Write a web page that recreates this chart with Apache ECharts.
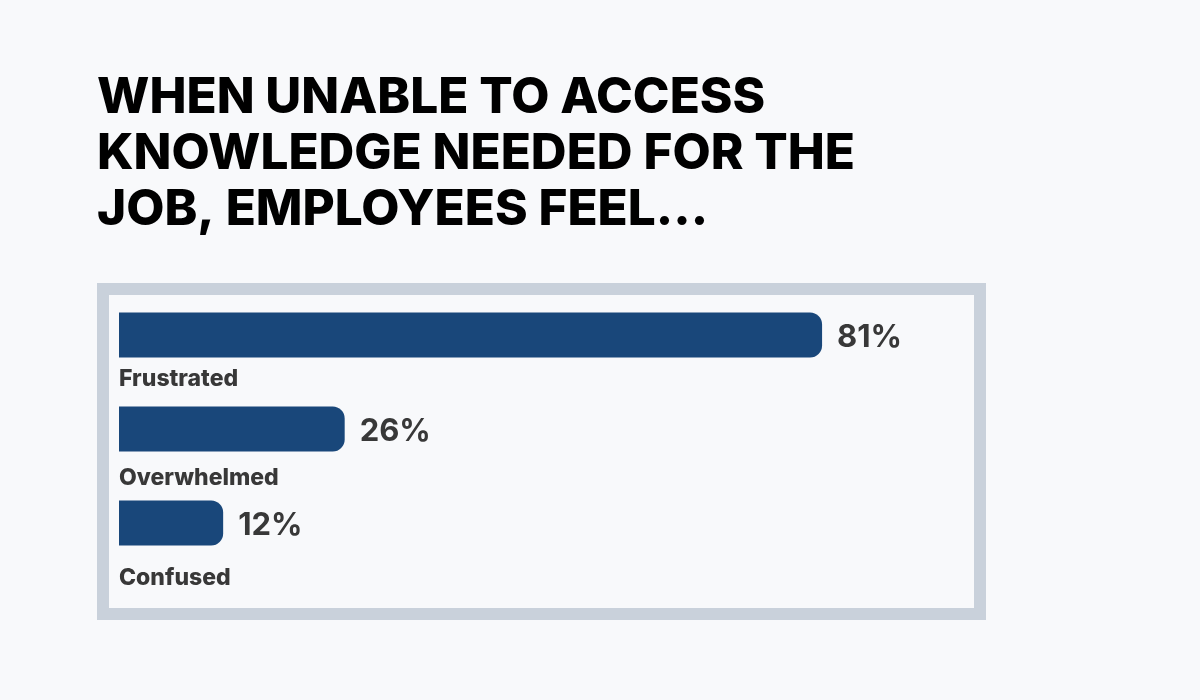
<!DOCTYPE html>
<html>
<head>
  <meta charset="utf-8" />
  <style>
    html, body { margin: 0; padding: 0; background: #f8f9fb; }
  </style>
</head>
<body>
  <div id="main" style="width: 1200px; height: 700px"></div>
  <script src="https://cdn.jsdelivr.net/npm/echarts@6.0.0/dist/echarts.min.js"></script>
  <script>
    // data
    var titleLines = ["WHEN UNABLE TO ACCESS", "KNOWLEDGE NEEDED FOR THE", "JOB, EMPLOYEES FEEL..."];
    var feelings = ["Frustrated", "Overwhelmed", "Confused"];
    var shares = [81, 26, 12];

    var catFont = { fontFamily: "Inter", fontSize: 23, fontWeight: 800, color: "#383838" };

    var myChart = echarts.init(document.getElementById("main"));
    var option = {
      backgroundColor: "#f8f9fb",
      animation: false,
      title: {
        text: titleLines.join("\n"),
        left: 97,
        top: 70,
        padding: 0,
        textStyle: {
          fontFamily: "Inter",
          fontSize: 49.5,
          fontWeight: 800,
          lineHeight: 56,
          color: "#000"
        }
      },
      graphic: [
        {
          type: "rect",
          shape: { x: 103, y: 289, width: 877, height: 325 },
          style: { fill: "#f8f9fb", stroke: "#c9d1db", lineWidth: 12 },
          z: -1
        }
      ],
      grid: { left: 119, width: 868, top: 288, height: 282 },
      xAxis: {
        type: "value",
        min: 0,
        max: 100,
        show: false
      },
      yAxis: {
        type: "category",
        data: feelings,
        inverse: true,
        axisLine: { show: false },
        axisTick: { show: false },
        splitLine: { show: false },
        axisLabel: {
          inside: true,
          margin: 0,
          align: "left",
          verticalAlign: "top",
          formatter: function (v, i) {
            return "{r" + i + "|" + v + "}";
          },
          rich: {
            r0: Object.assign({ padding: [33, 0, 0, 0] }, catFont),
            r1: Object.assign({ padding: [38, 0, 0, 0] }, catFont),
            r2: Object.assign({ padding: [44, 0, 0, 0] }, catFont)
          }
        },
        z: 10
      },
      series: [
        {
          type: "bar",
          data: shares,
          barWidth: 45,
          itemStyle: { color: "#19477a", borderRadius: [0, 12, 12, 0] },
          label: {
            show: true,
            position: "right",
            distance: 15,
            offset: [0, 3],
            formatter: "{c}%",
            fontFamily: "Inter",
            fontSize: 31,
            fontWeight: 700,
            color: "#383838"
          }
        }
      ]
    };
    myChart.setOption(option);
  </script>
</body>
</html>
